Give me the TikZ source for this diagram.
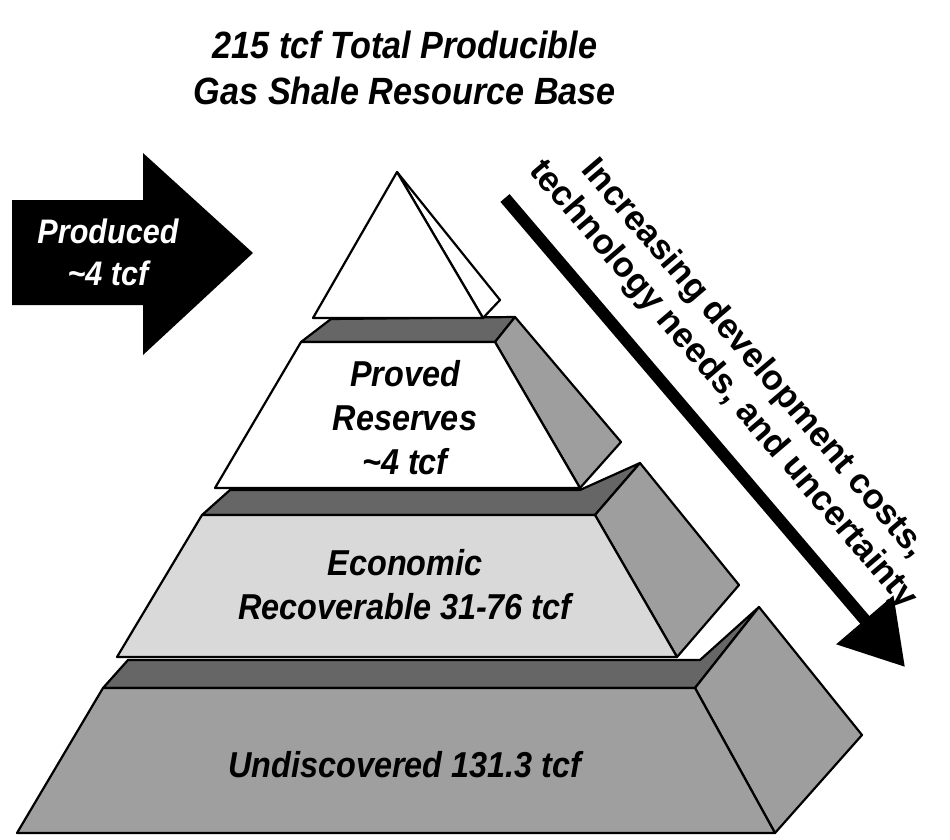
\documentclass[tikz,border=0pt]{standalone}
\usepackage{fontspec}
\setmainfont{Liberation Sans}
\usetikzlibrary{arrows.meta}
\begin{document}
\begin{tikzpicture}[x=1pt,y=-1pt,
  face/.style={draw=black,line width=2.2pt,line join=round},
  lbl/.style={font=\fontsize{36}{44}\selectfont\bfseries\itshape,align=center,xscale=0.9}]
\useasboundingbox (0,0) rectangle (950,840);
\definecolor{dk}{gray}{0.4}
\definecolor{sd}{gray}{0.62}
% title
\node[lbl,font=\fontsize{38}{46}\selectfont\bfseries\itshape] (title) at (405,68) {215 tcf Total Producible\\Gas Shale Resource Base};
% bottom tier
\fill[dk,face] (103,688) -- (128,660) -- (700,660) -- (759,607) -- (695,688) -- cycle;
\fill[sd,face] (695,688) -- (759,607) -- (862,735) -- (775,833) -- cycle;
\fill[gray!75!white,face] (103,688) -- (695,688) -- (775,833) -- (17,833) -- cycle;
% tier 2
\fill[dk,face] (202,515) -- (230,490) -- (580,490) -- (640,463) -- (595,515) -- cycle;
\fill[sd,face] (595,515) -- (640,463) -- (739,585) -- (677,657) -- cycle;
\fill[gray!30!white,face] (202,515) -- (595,515) -- (677,657) -- (117,657) -- cycle;
% tier 1
\fill[dk,face] (301,342) -- (331,319) -- (515,317) -- (495,342) -- cycle;
\fill[sd,face] (495,342) -- (515,317) -- (621,442) -- (580,488) -- cycle;
\fill[white,face] (301,342) -- (495,342) -- (580,488) -- (215,488) -- cycle;
% apex
\fill[white,face] (397,172) -- (500,300) -- (483,318) -- cycle;
\fill[white,face] (397,172) -- (483,318) -- (313,318) -- cycle;
% labels
\node[lbl] (proved) at (405,418) {Proved\\Reserves\\\textasciitilde4 tcf};
\node[lbl] (econ) at (405,585) {Economic\\Recoverable 31-76 tcf};
\node[lbl] (undisc) at (405,765) {Undiscovered 131.3 tcf};
% produced arrow
\fill[black] (12,200) -- (143,200) -- (143,153) -- (253,253) -- (143,355) -- (143,305) -- (12,305) -- cycle;
\node[lbl,text=white,font=\fontsize{34}{42}\selectfont\bfseries\itshape] (prod) at (108,252) {Produced\\\textasciitilde4 tcf};
% diagonal arrow
\coordinate (s) at (505,198);
\coordinate (e) at (905,667);
\draw[line width=12pt,-{Triangle[length=62pt,width=72pt]}] (s) -- (e);
\node[align=center,rotate=-49.5,font=\fontsize{35}{40}\selectfont\bfseries] (incr) at (738,372) {Increasing development costs,\\technology needs, and uncertainty};
\end{tikzpicture}
\end{document}
